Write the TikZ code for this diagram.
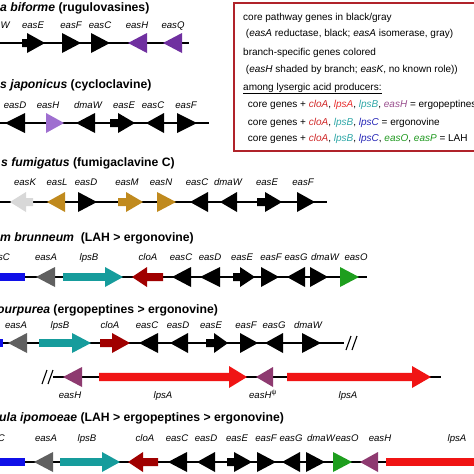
\documentclass[tikz,border=0pt]{standalone}
\usepackage{fontspec}
\setmainfont{Liberation Sans}
\definecolor{purA}{HTML}{7030A0}
\definecolor{lav}{HTML}{9F6FD0}
\definecolor{gold}{HTML}{C08A1E}
\definecolor{lgray}{HTML}{D8D8D8}
\definecolor{dgray}{HTML}{606060}
\definecolor{teal}{HTML}{169C9C}
\definecolor{dred}{HTML}{A00000}
\definecolor{bred}{HTML}{F01414}
\definecolor{maroon}{HTML}{8E3A70}
\definecolor{grn}{HTML}{1E9E1E}
\definecolor{blu}{HTML}{1010E8}
\definecolor{boxred}{HTML}{B0232A}
\definecolor{kred}{HTML}{D02828}
\definecolor{kred2}{HTML}{E83030}
\definecolor{kteal}{HTML}{30A8A8}
\definecolor{kmar}{HTML}{9A4F8E}
\definecolor{kblu}{HTML}{2828B8}
\definecolor{kgrn}{HTML}{209A20}
% tail, head base, tip, y, colour, body half height, head half height
\newcommand\genearr[7]{\fill[#5] (#1,#4-#6) -- (#2,#4-#6) -- (#2,#4-#7) -- (#3,#4) -- (#2,#4+#7) -- (#2,#4+#6) -- (#1,#4+#6) -- cycle;}
% base, tip, y, colour
\newcommand\tri[4]{\fill[#4] (#1,#3-10) -- (#2,#3) -- (#1,#3+10) -- cycle;}
% tail, base, tip, y, colour
\newcommand\boxarr[5]{\genearr{#1}{#2}{#3}{#4}{#5}{4}{10}}
\newcommand\glab[4]{\node[lab] (#1) at (#2,#3) {#4};}
\newcommand\brk[2]{\draw[brkline] (#1,#2+7) -- (#1+5,#2-7); \draw[brkline] (#1+6,#2+7) -- (#1+11,#2-7);}
\begin{document}
\begin{tikzpicture}[x=1pt,y=-1pt,
  lab/.style={font=\fontsize{9.6}{10}\selectfont\itshape, inner sep=0pt, anchor=base},
  ttl/.style={font=\fontsize{12.2}{13}\selectfont\bfseries, inner sep=0pt, anchor=base west},
  leg/.style={font=\fontsize{10}{11}\selectfont, inner sep=0pt, anchor=base west},
  chrom/.style={line width=1.3pt, black},
  brkline/.style={line width=1.1pt, black}]
\useasboundingbox (0,0) rectangle (474,474);
\fill[white] (0,0) rectangle (474,474);

% ---------- legend box ----------
\draw[boxred, line width=1.8pt] (477,3) -- (234,3) -- (234,151) -- (477,151);
\node[leg] (k1) at (243,20) {core pathway genes in black/gray};
\node[leg] (k2) at (243,36) {\ (\textit{easA} reductase, black; \textit{easA} isomerase, gray)};
\node[leg] (k3) at (243,55) {branch-specific genes colored};
\node[leg] (k4) at (243,72) {\ (\textit{easH} shaded by branch; \textit{easK}, no known role))};
\node[leg] (k5) at (243,90) {\underline{among lysergic acid producers:}};
\node[leg] (k6) at (245,107) {\ core genes + \textcolor{kred}{\textit{cloA}}, \textcolor{kred2}{\textit{lpsA}}, \textcolor{kteal}{\textit{lpsB}}, \textcolor{kmar}{\textit{easH}} = ergopeptines};
\node[leg] (k7) at (245,125) {\ core genes + \textcolor{kred}{\textit{cloA}}, \textcolor{kteal}{\textit{lpsB}}, \textcolor{kblu}{\textit{lpsC}} = ergonovine};
\node[leg] (k8) at (245,141) {\ core genes + \textcolor{kred}{\textit{cloA}}, \textcolor{kteal}{\textit{lpsB}}, \textcolor{kblu}{\textit{lpsC}}, \textcolor{kgrn}{\textit{easO}}, \textcolor{kgrn}{\textit{easP}} = LAH};

% ---------- row 1 ----------
\node[ttl] (t1) at (0,11) {\itshape a biforme\upshape{} (rugulovasines)};
\draw[chrom] (0,43) -- (189,43);
\boxarr{22}{27}{45}{43}{black}
\tri{62}{81}{43}{black}
\tri{91}{110}{43}{black}
\tri{147}{128}{43}{purA}
\tri{182}{163}{43}{purA}
\node[lab, anchor=base east] (a0) at (10,28.5) {W};
\glab{a1}{33}{28.5}{easE}
\glab{a2}{71}{28.5}{easF}
\glab{a3}{100}{28.5}{easC}
\glab{a4}{137}{28.5}{easH}
\glab{a5}{173}{28.5}{easQ}

% ---------- row 2 ----------
\node[ttl] (t2) at (0,88) {\itshape s japonicus\upshape{} (cycloclavine)};
\draw[chrom] (0,123) -- (209,123);
\tri{25}{5}{123}{black}
\tri{46}{64}{123}{lav}
\tri{95}{76}{123}{black}
\boxarr{110}{118}{135}{123}{black}
\tri{164}{146}{123}{black}
\tri{177}{197}{123}{black}
\glab{b1}{15}{108.5}{easD}
\glab{b2}{48}{108.5}{easH}
\glab{b3}{88}{108.5}{dmaW}
\glab{b4}{124}{108.5}{easE}
\glab{b5}{153}{108.5}{easC}
\glab{b6}{186}{108.5}{easF}

% ---------- row 3 ----------
\node[ttl] (t3) at (1,166) {\itshape s fumigatus\upshape{} (fumigaclavine C)};
\draw[chrom] (0,202) -- (327,202);
\boxarr{33}{26}{10}{202}{lgray}
\tri{65}{47}{202}{gold}
\tri{78}{97}{202}{black}
\boxarr{118}{126}{143}{202}{gold}
\tri{157}{176}{202}{gold}
\tri{208}{190}{202}{black}
\tri{237}{220}{202}{black}
\boxarr{257}{265}{282}{202}{black}
\tri{297}{315}{202}{black}
\glab{c1}{25}{185.5}{easK}
\glab{c2}{57}{185.5}{easL}
\glab{c3}{86}{185.5}{easD}
\glab{c4}{127}{185.5}{easM}
\glab{c5}{161}{185.5}{easN}
\glab{c6}{197}{185.5}{easC}
\glab{c7}{228}{185.5}{dmaW}
\glab{c8}{267}{185.5}{easE}
\glab{c9}{303}{185.5}{easF}

% ---------- row 4 ----------
\node[ttl] (t4) at (0,241) {\itshape m brunneum\upshape{}\hspace{3.4pt} (LAH > ergonovine)};
\draw[chrom] (0,277) -- (367,277);
\fill[blu] (-2,273) rectangle (25,281);
\tri{55}{36}{277}{dgray}
\genearr{63}{105}{123}{277}{teal}{3.8}{10}
\genearr{163}{147}{132}{277}{dred}{4}{10}
\tri{191}{172}{277}{black}
\tri{220}{200}{277}{black}
\boxarr{233}{240}{255}{277}{black}
\tri{261}{279}{277}{black}
\tri{305}{287}{277}{black}
\tri{310}{328}{277}{black}
\tri{340}{359}{277}{grn}
\node[lab, anchor=base east] (d0) at (10,260.5) {sC};
\glab{d1}{46}{260.5}{easA}
\glab{d2}{89}{260.5}{lpsB}
\glab{d3}{148}{260.5}{cloA}
\glab{d4}{181}{260.5}{easC}
\glab{d5}{210}{260.5}{easD}
\glab{d6}{242}{260.5}{easE}
\glab{d7}{271}{260.5}{easF}
\glab{d8}{296}{260.5}{easG}
\glab{d9}{325}{260.5}{dmaW}
\glab{d10}{356}{260.5}{easO}

% ---------- row 5 ----------
\node[ttl] (t5) at (-3,313) {\itshape ourpurea\upshape{} (ergopeptines > ergonovine)};
\draw[chrom] (0,343) -- (347,343);
\fill[blu] (-2,339) rectangle (3,347);
\tri{27}{8}{343}{dgray}
\genearr{39}{72}{91}{343}{teal}{3.8}{10}
\genearr{100}{112}{130}{343}{dred}{4}{10}
\tri{158}{139}{343}{black}
\tri{188}{170}{343}{black}
\boxarr{206}{214}{228}{343}{black}
\tri{240}{258}{343}{black}
\tri{283}{265}{343}{black}
\tri{302}{321}{343}{black}
\fill[white] (344,335) rectangle (359,351);
\brk{346}{343}
\glab{e1}{16}{328.5}{easA}
\glab{e2}{60}{328.5}{lpsB}
\glab{e3}{110}{328.5}{cloA}
\glab{e4}{147}{328.5}{easC}
\glab{e5}{178}{328.5}{easD}
\glab{e6}{211}{328.5}{easE}
\glab{e7}{246}{328.5}{easF}
\glab{e8}{274}{328.5}{easG}
\glab{e9}{308}{328.5}{dmaW}

% ---------- row 5b ----------
\draw[chrom] (53,377) -- (441,377);
\brk{42}{377}
\tri{82}{63}{377}{maroon}
\genearr{99}{229}{247}{377}{bred}{4.2}{11}
\tri{273}{256}{377}{maroon}
\genearr{287}{412}{431}{377}{bred}{4.2}{11}
\glab{f1}{70}{398.5}{easH}
\glab{f2}{163}{398.5}{lpsA}
\glab{f3}{263}{398.5}{easH\textsuperscript{\upshape ψ}}
\glab{f4}{348}{398.5}{lpsA}

% ---------- row 6 ----------
\node[ttl] (t6) at (-1,421) {\itshape ula ipomoeae\upshape{} (LAH > ergopeptines > ergonovine)};
\draw[chrom] (0,462) -- (474,462);
\fill[blu] (-2,458) rectangle (25,466);
\tri{53}{34}{462}{dgray}
\genearr{60}{102}{120}{462}{teal}{3.8}{10}
\genearr{158}{143}{128}{462}{dred}{4}{10}
\tri{187}{168}{462}{black}
\tri{215}{197}{462}{black}
\boxarr{227}{234}{252}{462}{black}
\tri{257}{276}{462}{black}
\tri{300}{282}{462}{black}
\tri{306}{325}{462}{black}
\tri{333}{352}{462}{grn}
\tri{378}{360}{462}{maroon}
\fill[bred] (386,457.8) rectangle (476,466.2);
\node[lab, anchor=base east] (g0) at (5,441.5) {C};
\glab{g1}{46}{441.5}{easA}
\glab{g2}{87}{441.5}{lpsB}
\glab{g3}{145}{441.5}{cloA}
\glab{g4}{177}{441.5}{easC}
\glab{g5}{206}{441.5}{easD}
\glab{g6}{237}{441.5}{easE}
\glab{g7}{266}{441.5}{easF}
\glab{g8}{291}{441.5}{easG}
\glab{g9}{321}{441.5}{dmaW}
\glab{g10}{347}{441.5}{easO}
\glab{g11}{380}{441.5}{easH}
\glab{g12}{457}{441.5}{lpsA}
\end{tikzpicture}
\end{document}
